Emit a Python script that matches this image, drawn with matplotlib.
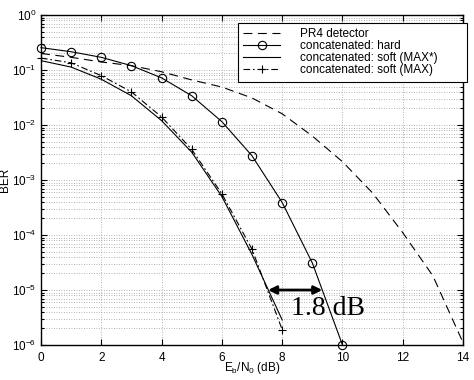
import matplotlib
matplotlib.use("Agg")
import matplotlib.pyplot as plt
import numpy as np

plt.rcParams['font.family'] = ['Liberation Sans', 'DejaVu Sans']
plt.rcParams['mathtext.fontset'] = 'custom'
plt.rcParams['mathtext.rm'] = 'Liberation Sans'
plt.rcParams['mathtext.it'] = 'Liberation Sans'

# ---- data ----
ebn0_pr4 = [0, 1, 2, 3, 4, 5, 6, 7, 8, 9, 10, 11, 12, 13, 14]
ber_pr4 = [0.20, 0.17, 0.14, 0.12, 0.093, 0.066, 0.049, 0.031, 0.016,
           6.3e-3, 2.15e-3, 5.8e-4, 1.1e-4, 1.8e-5, 1.1e-6]

ebn0_hard = [0, 1, 2, 3, 4, 5, 6, 7, 8, 9, 10]
ber_hard = [0.255, 0.215, 0.17, 0.12, 0.072, 0.034, 0.0115, 2.75e-3,
            3.9e-4, 3.1e-5, 1.0e-6]

ebn0_maxstar = [0, 1, 2, 3, 4, 5, 6, 7, 8]
ber_maxstar = [0.148, 0.113, 0.068, 0.034, 0.012, 3.2e-3, 5.0e-4, 4.4e-5, 2.85e-6]

ebn0_max = [0, 1, 2, 3, 4, 5, 6, 7, 8]
ber_max = [0.165, 0.135, 0.079, 0.040, 0.014, 3.6e-3, 5.6e-4, 5.5e-5, 1.9e-6]

labels = ['PR4 detector', 'concatenated: hard',
          'concatenated: soft (MAX*)', 'concatenated: soft (MAX)']

gain_from, gain_to, gain_ber = 7.53, 9.33, 1e-5
gain_text = '1.8 dB'

xticks = [0, 2, 4, 6, 8, 10, 12, 14]

# ---- figure ----
fig = plt.figure(figsize=(4.74, 3.80), dpi=100)
ax = fig.add_axes([0.0865, 0.092, 0.8905, 0.8685])

lw = 0.8
ax.semilogy(ebn0_pr4, ber_pr4, color='black', lw=lw, dashes=(8, 5),
            label=labels[0])
ax.semilogy(ebn0_hard, ber_hard, color='black', lw=lw, marker='o', ms=6,
            mfc='none', mew=0.8, label=labels[1], clip_on=False)
ax.semilogy(ebn0_maxstar, ber_maxstar, color='black', lw=lw, label=labels[2])
ax.semilogy(ebn0_max, ber_max, color='black', lw=lw, dashes=(6, 2.5, 1.5, 2.5),
            marker='+', ms=6, mew=0.8, label=labels[3], clip_on=False)

ax.set_xlim(0, 14)
ax.set_ylim(1e-6, 1)
ax.set_xticks(xticks)
ax.set_xticklabels([str(t) for t in xticks])
ax.set_yticks([10.0**k for k in range(-6, 1)])
ax.set_yticklabels([r'$10^{%d}$' % k for k in range(-6, 1)])

ax.grid(True, which='major', axis='both', color='0.6', lw=0.6,
        linestyle=(0, (1, 2)))
ax.grid(True, which='minor', axis='y', color='0.6', lw=0.6,
        linestyle=(0, (1, 2)))
ax.tick_params(which='both', direction='in', top=True, right=True,
               labelsize=8.5, width=0.8)
ax.tick_params(which='major', length=4)
ax.tick_params(which='minor', length=2)
ax.tick_params(axis='x', pad=5)
for s in ax.spines.values():
    s.set_linewidth(1.0)

ax.set_xlabel(r'E$_\mathregular{b}$/N$_\mathregular{0}$ (dB)', fontsize=8.5)
ax.set_ylabel('BER', fontsize=8.5)
ax.xaxis.set_label_coords(0.5, -0.045)
ax.yaxis.set_label_coords(-0.071, 0.5)

leg = ax.legend(loc='upper left',
                bbox_to_anchor=(238 / 474, 1 - 80 / 380, 229 / 474, 57 / 380),
                bbox_transform=fig.transFigure, mode='expand',
                fontsize=8.5, frameon=True,
                fancybox=False, framealpha=1, edgecolor='black',
                handlelength=3.1, labelspacing=0.0, borderpad=0.45,
                handletextpad=1.7, borderaxespad=0)
leg.get_frame().set_linewidth(0.8)

ax.annotate('', xy=(gain_from, gain_ber), xytext=(gain_to, gain_ber),
            arrowprops=dict(arrowstyle='<|-|>', color='black', lw=2,
                            mutation_scale=12, shrinkA=0, shrinkB=0))
ax.text(8.3, 10**-5.33, gain_text, fontsize=20, family='Liberation Serif',
        va='center', ha='left')

fig.savefig('out.png', dpi=100)
